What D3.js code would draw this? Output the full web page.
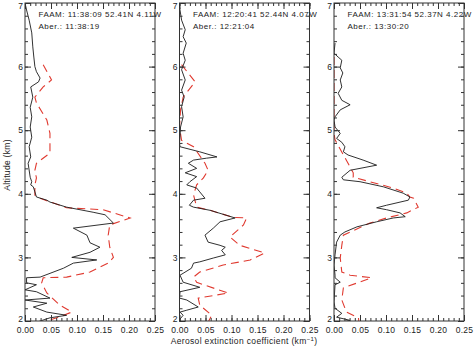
<!DOCTYPE html>
<html><head><meta charset="utf-8">
<script src="https://cdn.jsdelivr.net/npm/d3@7"></script>
<style>body{margin:0;background:#fff}svg{display:block}text{font-family:"Liberation Sans",Arial,sans-serif;fill:#222}</style>
</head><body><svg id="c" width="474" height="350"></svg>
<script>
// [altitude km, extinction km^-1]
const faam1 = [[7,0],[6.89,0.003],[6.73,0.008],[6.53,0.013],[6.31,0.015],[6.15,0.017],[6.0,0.019],[5.92,0.022],[5.82,0.029],[5.76,0.026],[5.68,0.011],[5.52,0.015],[5.36,0.010],[5.21,0.013],[5.05,0.010],[4.89,0.013],[4.74,0.008],[4.58,0.011],[4.48,0.006],[4.26,0.010],[4.19,0.013],[4.14,0.011],[4.11,0.016],[4.03,0.019],[3.95,0.022],[3.90,0.042],[3.87,0.048],[3.79,0.080],[3.71,0.131],[3.67,0.154],[3.54,0.170],[3.46,0.093],[3.35,0.119],[3.23,0.125],[3.16,0.144],[3.08,0.125],[3.0,0.090],[2.96,0.138],[2.91,0.093],[2.83,0.074],[2.69,0.029],[2.68,0.003],[2.60,0.003],[2.57,0.022],[2.49,0.0],[2.46,0.022],[2.36,0.048],[2.33,0.0],[2.28,0.042],[2.22,0.016],[2.14,0.042],[2.09,0.080],[2.05,0.048],[1.98,0.022]];
const aber1 = [[6.03,0.035],[5.79,0.051],[5.68,0.035],[5.52,0.019],[5.43,0.022],[5.16,0.042],[4.95,0.048],[4.64,0.048],[4.48,0.022],[4.37,0.019],[4.25,0.022],[4.14,0.019],[3.98,0.019],[3.93,0.029],[3.78,0.080],[3.75,0.150],[3.62,0.202],[3.51,0.163],[3.35,0.160],[3.16,0.163],[3.0,0.170],[2.91,0.160],[2.77,0.125],[2.69,0.080],[2.68,0.035],[2.60,0.032],[2.44,0.042],[2.25,0.067],[2.14,0.090],[2.06,0.064],[1.98,0.035]];
const faam2 = [[6.94,0],[6.73,0.004],[6.58,0.011],[6.47,0.007],[6.37,0.013],[6.21,0.007],[6.10,0.011],[5.95,0.004],[5.79,0.011],[5.63,0.004],[5.52,0.009],[5.37,0.004],[5.21,0.007],[5.05,0.002],[4.89,0.001],[4.80,0.0],[4.74,0.001],[4.66,0.039],[4.58,0.072],[4.56,0.052],[4.53,0.027],[4.48,0.017],[4.40,0.033],[4.33,0.011],[4.27,0.033],[4.19,0.020],[4.14,0.014],[4.09,0.033],[4.03,0.039],[3.93,0.049],[3.90,0.027],[3.82,0.019],[3.79,0.027],[3.74,0.059],[3.63,0.103],[3.62,0.107],[3.56,0.078],[3.46,0.065],[3.35,0.049],[3.24,0.055],[3.19,0.078],[3.16,0.088],[3.11,0.081],[3.04,0.088],[2.99,0.065],[2.93,0.039],[2.91,0.027],[2.83,0.023],[2.72,0.001],[2.61,0.007],[2.53,0.039],[2.46,0.001],[2.36,0.0],[2.33,0.014],[2.22,0.036],[2.17,0.014],[2.14,0.001],[2.09,0.007],[2.03,0.001],[1.98,0.002]];
const aber2 = [[6.03,0.004],[5.76,0.030],[5.52,0.007],[5.32,0.002],[5.05,0.0],[4.84,0.004],[4.74,0.027],[4.48,0.049],[4.37,0.055],[4.25,0.046],[4.14,0.033],[3.98,0.027],[3.79,0.033],[3.74,0.059],[3.63,0.103],[3.62,0.129],[3.51,0.123],[3.32,0.097],[3.19,0.116],[3.07,0.164],[2.96,0.136],[2.88,0.084],[2.77,0.039],[2.69,0.027],[2.61,0.033],[2.57,0.046],[2.44,0.094],[2.36,0.036],[2.25,0.039],[2.09,0.062],[1.98,0.055]];
const faam3 = [[6.37,0.002],[6.21,0.0],[6.15,0.008],[6.10,0.015],[5.98,0.012],[5.90,0.017],[5.79,0.012],[5.68,0.015],[5.58,0.008],[5.47,0.015],[5.40,0.031],[5.32,0.012],[5.21,0.002],[5.16,0.0],[5.05,0.002],[4.95,0.012],[4.87,0.005],[4.81,0.015],[4.74,0.021],[4.66,0.018],[4.61,0.027],[4.53,0.056],[4.45,0.082],[4.40,0.050],[4.37,0.031],[4.26,0.015],[4.22,0.018],[4.19,0.050],[4.11,0.095],[4.01,0.133],[3.95,0.146],[3.90,0.143],[3.82,0.101],[3.78,0.082],[3.75,0.101],[3.70,0.127],[3.64,0.137],[3.62,0.114],[3.56,0.082],[3.48,0.044],[3.40,0.021],[3.35,0.012],[3.24,0.005],[3.04,0.002],[2.88,0.0],[2.72,0.002],[2.68,0.002],[2.61,0.012],[2.57,0.002],[2.30,0.0],[2.20,0.002],[2.12,0.015],[2.06,0.005],[2.01,0.031],[1.98,0.012]];
const aber3 = [[6.15,0.0],[4.95,0.0],[4.85,0.002],[4.33,0.037],[4.26,0.037],[4.19,0.069],[4.09,0.114],[4.01,0.140],[3.95,0.146],[3.93,0.153],[3.79,0.162],[3.70,0.140],[3.62,0.101],[3.54,0.069],[3.35,0.018],[3.19,0.015],[2.99,0.012],[2.77,0.015],[2.72,0.031],[2.68,0.072],[2.52,0.018],[2.33,0.015],[2.14,0.024],[2.05,0.047],[1.98,0.048]];
const headers = [["FAAM: 11:38:09 52.41N 4.11W","Aber.: 11:38:19"],["FAAM: 12:20:41 52.44N 4.07W","Aber.: 12:21:04"],["FAAM: 13:31:54 52.37N 4.22W","Aber.: 13:30:20"]];
const xTicks = [0,0.05,0.10,0.15,0.20,0.25];
const yTicks = [2,3,4,5,6,7];

const panels = [{f:faam1,a:aber1},{f:faam2,a:aber2},{f:faam3,a:aber3}];
const svg = d3.select("#c");
const lefts = [25,179.5,334], W = 130, pTop = 3, pBot = 321;
const y = d3.scaleLinear().domain([2,7]).range([pBot,pTop]);

panels.forEach((p,i)=>{
  const x = d3.scaleLinear().domain([0,0.25]).range([lefts[i],lefts[i]+W]);
  const g = svg.append("g");
  const cid = "clip"+i;
  svg.append("clipPath").attr("id",cid).append("rect").attr("x",lefts[i]).attr("y",pTop).attr("width",W).attr("height",pBot-pTop);
  const line = d3.line().x(d=>x(d[1])).y(d=>y(d[0]));
  g.append("path").datum(p.a).attr("d",line).attr("clip-path",`url(#${cid})`)
    .attr("fill","none").attr("stroke","#e03a30").attr("stroke-width",1.1).attr("stroke-dasharray","8,5");
  g.append("path").datum(p.f).attr("d",line).attr("clip-path",`url(#${cid})`)
    .attr("fill","none").attr("stroke","#1a1a1a").attr("stroke-width",0.9);
  const minorX = d3.range(0,0.2501,0.01), minorY = d3.range(2,7.001,0.2);
  const bAx = d3.axisBottom(x).tickValues(xTicks).tickSize(-6).tickFormat(d3.format(".2f"));
  const tAx = d3.axisTop(x).tickValues(xTicks).tickSize(-6).tickFormat("");
  const lAx = d3.axisLeft(y).tickValues(yTicks).tickSize(-6).tickFormat(d3.format("d"));
  const rAx = d3.axisRight(y).tickValues(yTicks).tickSize(-6).tickFormat("");
  const addAxis=(ax,tr)=>{const a=g.append("g").attr("transform",tr).call(ax);a.select(".domain").remove();a.selectAll("line").attr("stroke","#333");a.selectAll("text").attr("font-size","8.5px").attr("fill","#222");return a;};
  const ba = addAxis(bAx,`translate(0,${pBot})`); ba.selectAll("text").attr("dy","0.55em").attr("y",7).attr("letter-spacing","0.3px");
  addAxis(tAx,`translate(0,${pTop})`);
  const la = addAxis(lAx,`translate(${lefts[i]},0)`);
  la.selectAll("text").attr("x",-2).attr("font-size","8.5px")
    .attr("dy",d=>d===7?"0.62em":(d===2?"0.1em":"0.32em"));
  addAxis(rAx,`translate(${lefts[i]+W},0)`);
  addAxis(d3.axisBottom(x).tickValues(minorX).tickSize(-3).tickFormat(""),`translate(0,${pBot})`);
  addAxis(d3.axisTop(x).tickValues(minorX).tickSize(-3).tickFormat(""),`translate(0,${pTop})`);
  addAxis(d3.axisLeft(y).tickValues(minorY).tickSize(-3).tickFormat(""),`translate(${lefts[i]},0)`);
  addAxis(d3.axisRight(y).tickValues(minorY).tickSize(-3).tickFormat(""),`translate(${lefts[i]+W},0)`);
  g.append("rect").attr("x",lefts[i]).attr("y",pTop).attr("width",W).attr("height",pBot-pTop).attr("fill","none").attr("stroke","#333").attr("stroke-width",1);
  g.append("text").attr("x",lefts[i]+13.5).attr("y",17).attr("font-size","8px").attr("letter-spacing","0.5px").text(headers[i][0]);
  g.append("text").attr("x",lefts[i]+13.5).attr("y",29).attr("font-size","8px").attr("letter-spacing","0.5px").text(headers[i][1]);
});
svg.append("text").attr("transform","translate(10,165) rotate(-90)").attr("text-anchor","middle").attr("font-size","8.5px").attr("letter-spacing","0.3px").text("Altitude (km)");
svg.append("text").attr("x",244).attr("y",344).attr("text-anchor","middle").attr("font-size","8.5px").attr("letter-spacing","0.35px")
  .html('Aerosol extinction coefficient (km<tspan dy="-3" font-size="6px">−1</tspan><tspan dy="3">)</tspan>');
</script></body></html>
